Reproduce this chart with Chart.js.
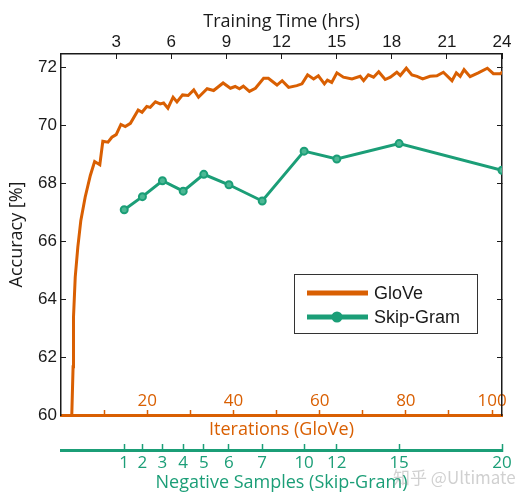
<!DOCTYPE html>
<html>
<head>
<meta charset="utf-8">
<script src="https://cdn.jsdelivr.net/npm/chart.js@4.4.1/dist/chart.umd.min.js"></script>
<style>
    html, body { margin: 0; padding: 0; background: #fff; }
    #wrap { width: 522px; height: 499px; }
</style>
</head>
<body>
<div id="wrap"><canvas id="accuracyChart"></canvas></div>
<script>
// --- DATA ---
// GloVe: accuracy against training iterations
const gloveIterations = [2.5, 2.8, 2.9, 3.3, 3.9, 4.6, 5.6, 6.8, 7.8, 9.0,
    9.7, 10.9, 11.8, 12.8, 13.9, 14.9, 16.1, 17.9, 18.8, 19.9,
    20.7, 21.9, 23.0, 23.8, 24.8, 26.0, 26.9, 28.2, 29.5, 30.8,
    31.9, 33.9, 35.4, 37.6, 39.3, 40.4, 41.4, 42.3, 43.7, 45.1,
    47.0, 48.1, 50.1, 51.3, 52.8, 54.7, 55.9, 57.2, 58.6, 59.7,
    61.1, 61.8, 62.8, 64.0, 65.5, 67.5, 69.4, 70.2, 71.3, 72.5,
    73.7, 75.2, 76.4, 77.9, 78.7, 80.1, 81.4, 82.6, 83.9, 85.6,
    87.2, 88.7, 90.7, 91.7, 92.6, 93.5, 94.9, 96.8, 98.9, 100.3,
    101.9, 102.6];
const gloveAccuracy = [60.0, 61.66, 63.38, 64.76, 65.79, 66.71, 67.51, 68.26, 68.74, 68.63,
    69.44, 69.41, 69.58, 69.67, 70.02, 69.95, 70.06, 70.52, 70.44, 70.64,
    70.61, 70.80, 70.73, 70.76, 70.58, 70.96, 70.80, 71.04, 71.02, 71.21,
    70.96, 71.25, 71.19, 71.45, 71.27, 71.33, 71.25, 71.34, 71.16, 71.27,
    71.61, 71.61, 71.38, 71.53, 71.30, 71.36, 71.42, 71.73, 71.59, 71.70,
    71.42, 71.55, 71.47, 71.80, 71.65, 71.59, 71.68, 71.53, 71.73, 71.65,
    71.84, 71.57, 71.65, 71.82, 71.71, 71.96, 71.73, 71.68, 71.59, 71.68,
    71.70, 71.82, 71.53, 71.80, 71.68, 71.91, 71.67, 71.80, 71.96, 71.77,
    71.77, 71.85];

// Skip-Gram: one run per negative sample count, placed at its training time
const negativeSamples = [1, 2, 3, 4, 5, 6, 7, 10, 12, 15, 20];
const skipGramHours = [3.44, 4.43, 5.52, 6.65, 7.77, 9.14, 10.95, 13.23, 15.01, 18.4, 24];
const skipGramAccuracy = [67.08, 67.53, 68.08, 67.72, 68.3, 67.94, 67.38, 69.1, 68.83, 69.36, 68.44];

// tick labels
const hourTicks = [3, 6, 9, 12, 15, 18, 21, 24];
const iterationTicks = [10, 20, 30, 40, 50, 60, 70, 80, 90, 100];
const iterationLabels = [20, 40, 60, 80, 100];
const accuracyTicks = [60, 62, 64, 66, 68, 70, 72];

const ORANGE = '#D95F02';
const GREEN = '#1B9E77';
const INK = '#1a1a1a';
const tickFont = { family: 'Liberation Sans, Arial, sans-serif', size: 17 };
const titleFont = { family: 'Open Sans, sans-serif', size: 18 };

const setTicks = list => axis => { axis.ticks = list.map(v => ({ value: v })); };

// legend box drawn inside the plot area
const insetLegend = {
    id: 'insetLegend',
    afterDraw(chart) {
        const { ctx, chartArea } = chart;
        const x = chartArea.right - 208, y = chartArea.top + 220;
        ctx.save();
        ctx.fillStyle = '#fff';
        ctx.fillRect(x, y, 183, 59);
        ctx.strokeStyle = '#333';
        ctx.lineWidth = 1;
        ctx.strokeRect(x + 0.5, y + 0.5, 183, 59);
        chart.data.datasets.forEach((ds, i) => {
            const ly = y + 19 + i * 24;
            ctx.strokeStyle = ds.borderColor;
            ctx.lineWidth = 5;
            ctx.beginPath();
            ctx.moveTo(x + 13, ly);
            ctx.lineTo(x + 74, ly);
            ctx.stroke();
            if (ds.pointRadius) {
                ctx.fillStyle = ds.borderColor;
                ctx.beginPath();
                ctx.arc(x + 43, ly, 5.5, 0, Math.PI * 2);
                ctx.fill();
            }
            ctx.fillStyle = INK;
            ctx.font = '18px "Liberation Sans", Arial, sans-serif';
            ctx.textBaseline = 'middle';
            ctx.fillText(ds.label, x + 80, ly + 1);
        });
        ctx.restore();
    }
};

const watermark = {
    id: 'watermark',
    afterDraw(chart) {
        const { ctx } = chart;
        ctx.save();
        ctx.fillStyle = 'rgba(150,150,150,0.45)';
        ctx.font = '17px "Noto Sans CJK SC", sans-serif';
        ctx.textBaseline = 'middle';
        ctx.fillText('知乎 @Ultimate', 393, 478);
        ctx.restore();
    }
};

new Chart(document.getElementById('accuracyChart'), {
    type: 'line',
    data: {
        datasets: [{
            label: 'GloVe',
            data: gloveIterations.map((it, i) => ({ x: it, y: gloveAccuracy[i] })),
            xAxisID: 'iter',
            yAxisID: 'y',
            borderColor: ORANGE,
            borderWidth: 3,
            pointRadius: 0,
            tension: 0
        }, {
            label: 'Skip-Gram',
            data: skipGramHours.map((h, i) => ({ x: h, y: skipGramAccuracy[i] })),
            xAxisID: 'neg',
            yAxisID: 'y',
            borderColor: GREEN,
            borderWidth: 3,
            pointRadius: 3.5,
            pointBorderWidth: 2,
            pointBorderColor: GREEN,
            pointBackgroundColor: '#4cb894',
            tension: 0
        }]
    },
    options: {
        responsive: true,
        maintainAspectRatio: false,
        animation: false,
        layout: { padding: { left: 2, right: 20, top: 5, bottom: 0 } },
        plugins: { legend: { display: false }, tooltip: { enabled: false } },
        scales: {
            time: {
                type: 'linear', position: 'top', min: 0, max: 24,
                afterBuildTicks: setTicks(hourTicks),
                grid: { drawOnChartArea: false, tickLength: -5, tickColor: INK, tickWidth: 1 },
                border: { color: INK, width: 1.5 },
                ticks: { padding: 6, color: INK, font: tickFont, autoSkip: false, maxRotation: 0 },
                title: { display: true, text: 'Training Time (hrs)', color: INK, font: titleFont, padding: { top: 6, bottom: -6 } }
            },
            iter: {
                type: 'linear', position: 'bottom', min: 0, max: 102.3, weight: 0,
                afterBuildTicks: setTicks(iterationTicks),
                grid: { drawOnChartArea: false, tickLength: -5, tickColor: ORANGE, tickWidth: 1.5 },
                border: { color: ORANGE, width: 3 },
                ticks: {
                    mirror: true, padding: 4, color: ORANGE, font: { family: 'Open Sans, sans-serif', size: 17 },
                    autoSkip: false, maxRotation: 0,
                    callback: v => iterationLabels.includes(v) ? v : ''
                },
                title: { display: true, text: 'Iterations (GloVe)', color: ORANGE, font: titleFont, padding: { top: 1, bottom: 9.4 } }
            },
            neg: {
                type: 'linear', position: 'bottom', min: 0, max: 24, weight: 1,
                afterBuildTicks: setTicks(skipGramHours),
                grid: { drawOnChartArea: false, tickLength: -6, tickColor: GREEN, tickWidth: 1.5 },
                border: { color: GREEN, width: 3 },
                ticks: {
                    padding: 9, color: GREEN, font: { family: 'Open Sans, sans-serif', size: 17 },
                    autoSkip: false, maxRotation: 0,
                    callback: (v, i) => negativeSamples[i]
                },
                title: { display: true, text: 'Negative Samples (Skip-Gram)', color: GREEN, font: titleFont, padding: { top: -10.2, bottom: 5.2 } }
            },
            y: {
                type: 'linear', position: 'left', min: 60, max: 72.45,
                afterBuildTicks: setTicks(accuracyTicks),
                grid: { drawOnChartArea: false, tickLength: -5, tickColor: INK, tickWidth: 1 },
                border: { color: INK, width: 1.5 },
                ticks: { padding: 9, color: INK, font: tickFont },
                title: { display: true, text: 'Accuracy [%]', color: INK, font: titleFont, padding: { top: 4, bottom: 1.5 } }
            },
            yRight: {
                type: 'linear', position: 'right', min: 60, max: 72.45,
                afterBuildTicks: setTicks(accuracyTicks),
                grid: { drawOnChartArea: false, tickLength: -5, tickColor: INK, tickWidth: 1 },
                border: { color: INK, width: 1.5 },
                ticks: { display: false }
            }
        }
    },
    plugins: [insetLegend, watermark]
});
</script>
</body>
</html>
